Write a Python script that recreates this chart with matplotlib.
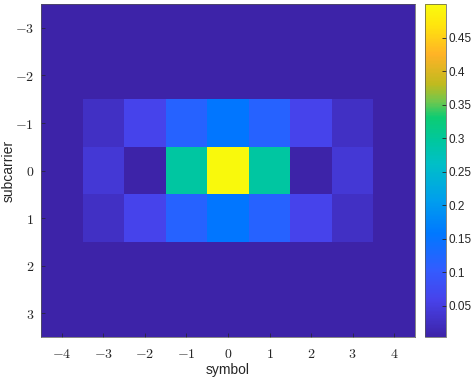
import numpy as np
import matplotlib
matplotlib.use("Agg")
import matplotlib.pyplot as plt
from matplotlib.colors import LinearSegmentedColormap

plt.rcParams['mathtext.fontset'] = 'cm'

symbols = [-4, -3, -2, -1, 0, 1, 2, 3, 4]
subcarriers = [-3, -2, -1, 0, 1, 2, 3]

bg = 0.003
row_m3 = [bg] * 9
row_m2 = [bg] * 9
row_m1 = [bg, 0.027, 0.060, 0.117, 0.155, 0.117, 0.060, 0.027, bg]
row_0 = [bg, 0.040, 0.004, 0.293, 0.500, 0.293, 0.004, 0.040, bg]
row_p1 = [bg, 0.027, 0.060, 0.117, 0.155, 0.117, 0.060, 0.027, bg]
row_p2 = [bg] * 9
row_p3 = [bg] * 9

cbar_ticks = [0.05, 0.1, 0.15, 0.2, 0.25, 0.3, 0.35, 0.4, 0.45]
cbar_labels = ['0.05', '0.1', '0.15', '0.2', '0.25', '0.3', '0.35', '0.4', '0.45']

data = np.array([row_m3, row_m2, row_m1, row_0, row_p1, row_p2, row_p3])

anchors = [
    (0.00, (0.24, 0.14, 0.66)),
    (0.11, (0.28, 0.26, 0.92)),
    (0.20, (0.20, 0.36, 1.00)),
    (0.31, (0.00, 0.47, 1.00)),
    (0.41, (0.00, 0.62, 0.93)),
    (0.52, (0.00, 0.75, 0.78)),
    (0.59, (0.00, 0.78, 0.62)),
    (0.66, (0.05, 0.80, 0.45)),
    (0.71, (0.45, 0.78, 0.30)),
    (0.76, (0.75, 0.73, 0.12)),
    (0.85, (1.00, 0.70, 0.15)),
    (0.94, (1.00, 0.90, 0.05)),
    (1.00, (0.98, 0.98, 0.05)),
]
cmap = LinearSegmentedColormap.from_list('parula_like', anchors, N=256)

fig = plt.figure(figsize=(4.74, 3.77), dpi=100)
ax = fig.add_axes([0.0865, 0.106, 0.789, 0.883])
cax = fig.add_axes([0.8966, 0.106, 0.0443, 0.883])

vmin, vmax = data.min(), data.max()
im = ax.imshow(data, cmap=cmap, vmin=vmin, vmax=vmax, aspect='auto',
               interpolation='nearest',
               extent=(symbols[0] - 0.5, symbols[-1] + 0.5,
                       subcarriers[-1] + 0.5, subcarriers[0] - 0.5))

ax.set_xticks(symbols)
ax.set_xticklabels([f'${s}$' for s in symbols])
ax.set_yticks(subcarriers)
ax.set_yticklabels([f'${s}$' for s in subcarriers])
ax.tick_params(direction='in', length=3, width=0.5, color='#262626',
               labelsize=10, labelcolor='#262626')
ax.tick_params(axis='x', pad=7)
ax.tick_params(axis='y', pad=5)
for sp in ax.spines.values():
    sp.set_linewidth(0.5)
    sp.set_color('#555555')
ax.set_xlabel('symbol', fontsize=10, family='Liberation Sans', color='#262626')
ax.set_ylabel('subcarrier', fontsize=10, family='Liberation Sans', color='#262626')
ax.xaxis.set_label_coords(0.5, -0.079)
ax.yaxis.set_label_coords(-0.068, 0.5)

cb = fig.colorbar(im, cax=cax)
cb.set_ticks(cbar_ticks)
cb.set_ticklabels(cbar_labels)
cax.tick_params(direction='in', length=3, width=0.6, color='#262626',
                labelsize=8.5, labelcolor='#262626', pad=2)
for lab in cax.get_yticklabels():
    lab.set_family('Liberation Sans')
cb.outline.set_linewidth(0.5)
cb.outline.set_edgecolor('#555555')

fig.savefig('out.png', dpi=100)
